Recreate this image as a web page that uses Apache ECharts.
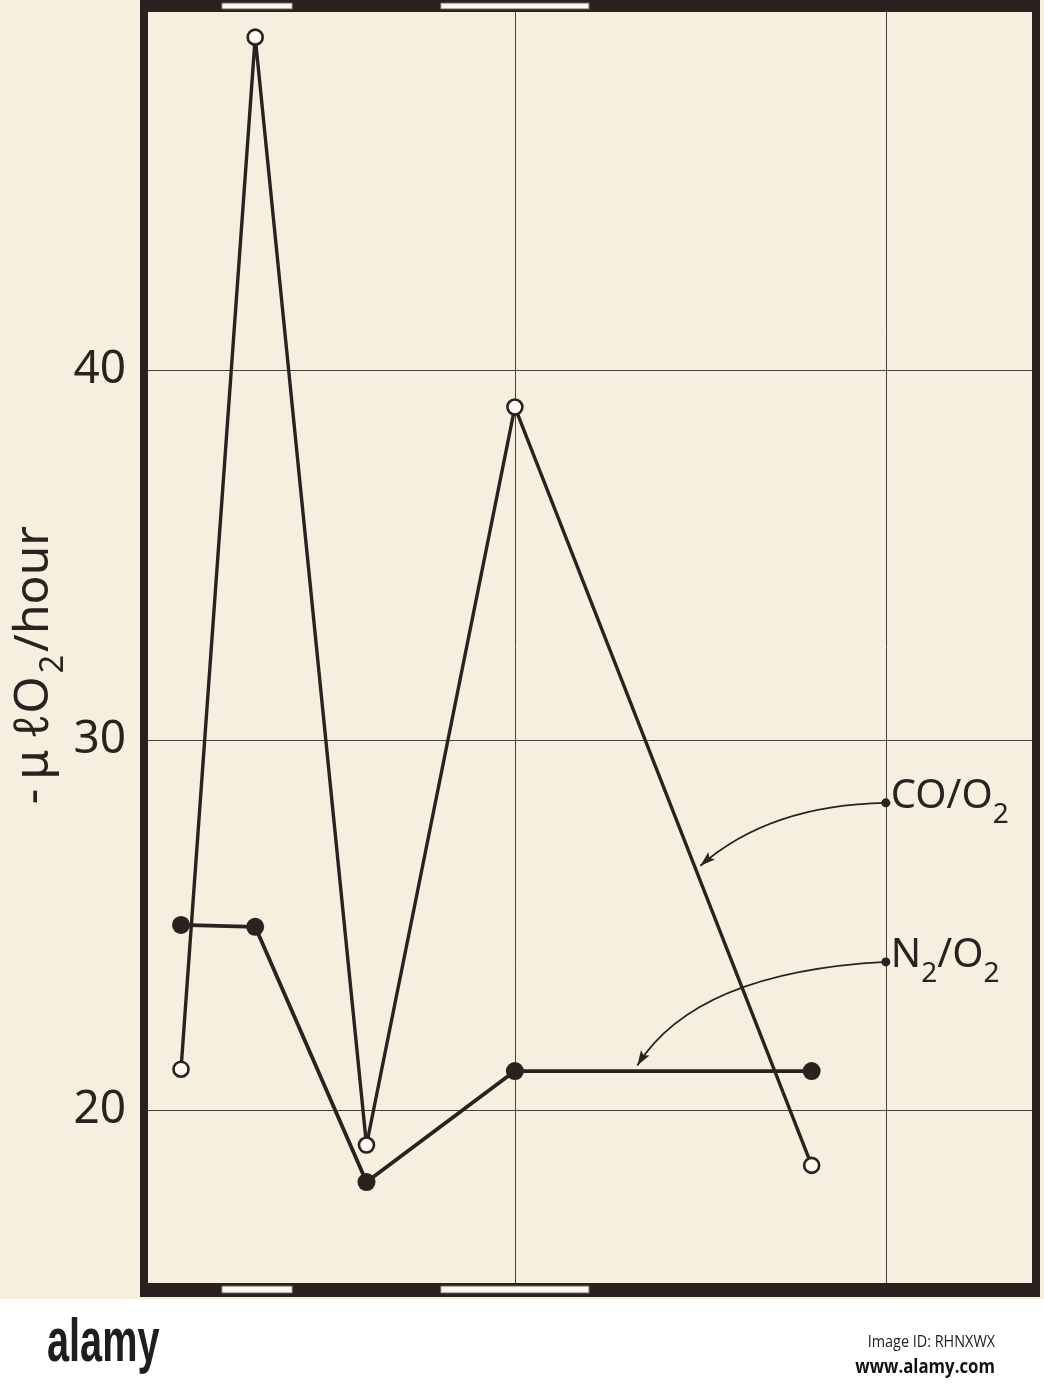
<!DOCTYPE html>
<html><head><meta charset="utf-8">
<script src="https://cdn.jsdelivr.net/npm/echarts@6/dist/echarts.min.js"></script>
<style>html,body{margin:0;padding:0;background:#f6efe0}#c{width:1044px;height:1390px}</style>
</head><body><div id="c"></div>
<script>
// ---- data ----
const xValues = [0.1, 0.3, 0.6, 1.0, 1.8];
const coO2 = [21.1, 49.0, 19.05, 39.0, 18.5];
const n2O2 = [25.0, 24.95, 18.05, 21.05, 21.05];
const yTickValues = [20, 30, 40];
const xGridValues = [1, 2];
const lightPeriods = [[0.21, 0.4], [0.8, 1.2]];
const seriesNames = ['CO/O2', 'N2/O2'];
// annotation anchors (data coords): label dot and arrow tip for each series
const labelDots = [[2.0, 28.3], [2.0, 24.0]];
const arrowTips = [[1.5, 26.6], [1.33, 21.2]];

const INK = '#2b211e';
const PAPER = '#f6efe0';
const chart = echarts.init(document.getElementById('c'), null, {renderer: 'canvas'});

const font = "'Noto Sans', 'DejaVu Sans', sans-serif";

chart.setOption({
  backgroundColor: PAPER,
  animation: false,
  grid: {left: 148, right: 12, top: 12, bottom: 107, containLabel: false},
  xAxis: {
    type: 'value', min: 0.011, max: 2.394,
    axisLine: {show: false},
    axisTick: {show: false, customValues: xGridValues},
    axisLabel: {show: false, customValues: xGridValues},
    splitLine: {show: true, lineStyle: {color: '#4a3f3a', width: 1}}
  },
  yAxis: {
    type: 'value', min: 15.32, max: 49.68,
    axisLine: {show: false},
    axisTick: {show: false, customValues: yTickValues},
    axisLabel: {customValues: yTickValues, color: INK, fontSize: 46, fontFamily: font, fontWeight: 'normal', margin: 22},
    splitLine: {show: true, lineStyle: {color: '#4a3f3a', width: 1}}
  },
  series: [
    {
      name: seriesNames[0], type: 'line',
      data: xValues.map((x, i) => [x, coO2[i]]),
      symbol: 'circle', symbolSize: 15,
      lineStyle: {color: INK, width: 3.4},
      itemStyle: {color: '#fffaf2', borderColor: INK, borderWidth: 2.6},
      z: 3
    },
    {
      name: seriesNames[1], type: 'line',
      data: xValues.map((x, i) => [x, n2O2[i]]),
      symbol: 'circle', symbolSize: 18,
      lineStyle: {color: INK, width: 3.8},
      itemStyle: {color: INK},
      z: 2
    },
    {
      // light periods shown in the frame bands
      type: 'custom', silent: true, clip: false, z: 20,
      data: lightPeriods,
      renderItem: function (params, api) {
        const a = api.coord([api.value(0), 30]);
        const b = api.coord([api.value(1), 30]);
        const cs = params.coordSys;
        const style = {fill: '#fbf8f2', stroke: '#6a605a', lineWidth: 1};
        return {type: 'group', children: [
          {type: 'rect', shape: {x: a[0], y: cs.y - 9, width: b[0] - a[0], height: 6}, style: style},
          {type: 'rect', shape: {x: a[0], y: cs.y + cs.height + 3, width: b[0] - a[0], height: 7}, style: style}
        ]};
      }
    }
  ]
});

function px(p) { return chart.convertToPixel({gridIndex: 0}, p); }

const richStyles = {
  a: {fontSize: 40, fontFamily: font, fontWeight: 'normal', fill: INK, lineHeight: 52, verticalAlign: 'top'},
  s: {fontSize: 28, fontFamily: font, fontWeight: 'normal', fill: INK, lineHeight: 28, verticalAlign: 'bottom'}
};

const g = [
  // frame
  {type: 'rect', shape: {x: 140, y: 0, width: 900, height: 12}, style: {fill: '#2a2220'}, z: 10},
  {type: 'rect', shape: {x: 140, y: 1283, width: 900, height: 14}, style: {fill: '#2a2220'}, z: 10},
  {type: 'rect', shape: {x: 140, y: 0, width: 8, height: 1297}, style: {fill: '#2a2220'}, z: 10},
  {type: 'rect', shape: {x: 1032, y: 0, width: 8, height: 1297}, style: {fill: '#2a2220'}, z: 10},
  // y axis title
  {type: 'text', x: 40, y: 665, rotation: Math.PI / 2, z: 6,
    style: {text: '{a|-}{m|μ}{a|ℓO}{s|2}{a|/hour}', align: 'center', verticalAlign: 'middle', fill: INK,
      rich: {
        a: {fontSize: 48, fontFamily: font, fontWeight: 'normal', fill: INK, lineHeight: 60, verticalAlign: 'top', padding: [0, 3, 0, 3]},
        m: {fontSize: 48, fontFamily: font, fontWeight: 'normal', fill: INK, lineHeight: 60, verticalAlign: 'top', padding: [0, 8, 0, 6]},
        s: {fontSize: 32, fontFamily: font, fontWeight: 'normal', fill: INK, lineHeight: 32, verticalAlign: 'bottom'}
      }}},
  // footer
  {type: 'rect', shape: {x: 0, y: 1299, width: 1044, height: 91}, style: {fill: '#ffffff'}, z: 10},
  {type: 'text', x: 47, y: 1344, scaleX: 0.64, style: {text: 'alamy', fill: '#1e1e1e', font: "bold 62px 'Liberation Sans', sans-serif", verticalAlign: 'middle'}, z: 11},
  {type: 'text', x: 995, y: 1342, scaleX: 0.9, style: {text: 'Image ID: RHNXWX', fill: '#222', font: "16px 'Open Sans', sans-serif", align: 'right', verticalAlign: 'middle'}, z: 11},
  {type: 'text', x: 995, y: 1367, scaleX: 0.84, style: {text: 'www.alamy.com', fill: '#111', font: "bold 20px 'Open Sans', sans-serif", align: 'right', verticalAlign: 'middle'}, z: 11}
];

const ctrlOffsets = [[-116, 2], [-190, 10]];
labelDots.forEach((d, i) => {
  const p0 = px(d), p2 = px(arrowTips[i]);
  const c = [p0[0] + ctrlOffsets[i][0], p0[1] + ctrlOffsets[i][1]];
  g.push({type: 'bezierCurve', shape: {x1: p0[0], y1: p0[1], x2: p2[0], y2: p2[1], cpx1: c[0], cpy1: c[1]},
          style: {stroke: INK, lineWidth: 1.8, fill: null}, z: 5});
  g.push({type: 'circle', shape: {cx: p0[0], cy: p0[1], r: 4.5}, style: {fill: INK}, z: 6});
  // arrow head
  const dx = p2[0] - c[0], dy = p2[1] - c[1];
  const L = Math.hypot(dx, dy), ux = dx / L, uy = dy / L;
  const len = 15, w = 5;
  const bx = p2[0] - ux * len, by = p2[1] - uy * len;
  g.push({type: 'polygon', shape: {points: [[p2[0], p2[1]], [bx - uy * w, by + ux * w], [bx + ux * 3, by + uy * 3], [bx + uy * w, by - ux * w]]},
          style: {fill: INK}, z: 6});
  const txt = i === 0 ? '{a|CO/O}{s|2}' : '{a|N}{s|2}{a|/O}{s|2}';
  g.push({type: 'text', x: p0[0] + 5, y: p0[1] - 26, z: 6,
    style: {text: txt, fill: INK, rich: richStyles}});
});

chart.setOption({graphic: g});
</script>
</body></html>
